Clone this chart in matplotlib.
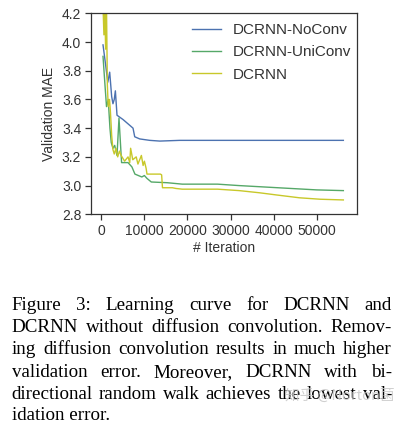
import matplotlib
matplotlib.use("Agg")
import matplotlib.pyplot as plt

# ---- data ----
noconv_x = [390, 1000, 1500, 1940, 2400, 2700, 3000, 3260, 3640, 5040, 6590, 7360, 7750, 8910, 11240, 13570, 18200, 56200]
noconv_y = [3.98, 3.84, 3.72, 3.79, 3.62, 3.57, 3.60, 3.66, 3.49, 3.46, 3.42, 3.40, 3.34, 3.325, 3.315, 3.31, 3.315, 3.315]

uniconv_x = [390, 800, 1200, 1600, 2000, 2300, 2700, 3100, 3640, 4100, 4700, 6200, 7100, 7800, 9400, 10000, 10600, 11600, 15300, 18800, 27000, 32000, 38000, 44000, 50000, 56200]
uniconv_y = [3.90, 3.72, 3.55, 3.60, 3.40, 3.30, 3.26, 3.28, 3.21, 3.47, 3.16, 3.16, 3.13, 3.08, 3.06, 3.07, 3.05, 3.025, 3.02, 3.01, 3.01, 3.00, 2.99, 2.98, 2.97, 2.965]

dcrnn_x = [390, 600, 800, 1000, 1200, 1400, 1600, 1900, 2100, 2400, 2700, 3000, 3400, 3800, 4200, 4600, 5400, 6200, 6600, 6800, 7300, 8100, 8500, 9300, 9700, 10000, 10400, 10600, 13700, 14000, 14200, 16500, 17300, 18800, 27000, 32000, 36700, 40600, 46000, 50800, 56200]
dcrnn_y = [4.25, 4.05, 4.22, 3.95, 4.25, 3.70, 3.55, 3.60, 3.52, 3.35, 3.25, 3.22, 3.26, 3.20, 3.24, 3.21, 3.17, 3.20, 3.16, 3.26, 3.18, 3.20, 3.15, 3.21, 3.14, 3.17, 3.12, 3.08, 3.08, 3.075, 2.985, 2.985, 2.98, 2.975, 2.975, 2.965, 2.95, 2.935, 2.915, 2.905, 2.90]

series_labels = ["DCRNN-NoConv", "DCRNN-UniConv", "DCRNN"]
colors = ["#4c72b0", "#55a868", "#c8c82a"]

x_ticks = [0, 10000, 20000, 30000, 40000, 50000]
y_ticks = [2.8, 3.0, 3.2, 3.4, 3.6, 3.8, 4.0, 4.2]

caption_lines = [
    "Figure 3:  Learning curve for DCRNN and",
    "DCRNN without diffusion convolution. Remov-",
    "ing diffusion convolution results in much higher",
    "validation error.  Moreover, DCRNN with bi-",
    "directional random walk achieves the lowest val-",
    "idation error.",
]

W, H = 408, 425
fig = plt.figure(figsize=(W / 100, H / 100), dpi=100)
fig.patch.set_facecolor("white")

ax = fig.add_axes([91 / W, 1 - 214.3 / H, (356.7 - 91) / W, (214.3 - 13.3) / H])
ax.plot(noconv_x, noconv_y, color=colors[0], lw=1.0, label=series_labels[0])
ax.plot(uniconv_x, uniconv_y, color=colors[1], lw=1.0, label=series_labels[1])
ax.plot(dcrnn_x, dcrnn_y, color=colors[2], lw=1.0, label=series_labels[2])

ax.set_xlim(-2400, 59300)
ax.set_ylim(2.8, 4.2)
ax.set_xticks(x_ticks)
ax.set_yticks(y_ticks)
ax.set_yticklabels([f"{v:.1f}" for v in y_ticks])
for lab in ax.get_xticklabels() + ax.get_yticklabels():
    lab.set_fontfamily("Liberation Sans")
    lab.set_fontsize(10)
    lab.set_color("#333333")
ax.tick_params(direction="out", length=4, width=0.9, color="#333333", pad=3)
for s in ax.spines.values():
    s.set_color("#333333")
    s.set_linewidth(0.9)
ax.set_xlabel("# Iteration", fontfamily="Liberation Sans", fontsize=10, color="#333333", labelpad=2)
ax.set_ylabel("Validation MAE", fontfamily="Liberation Sans", fontsize=10, color="#333333", labelpad=4)

leg = ax.legend(loc="upper left", frameon=False, prop=dict(family="Liberation Sans", size=11),
                handlelength=1.9, handletextpad=0.8, labelspacing=0.55, borderpad=0.0,
                bbox_to_anchor=(0.380, 0.952), borderaxespad=0.0)
for t in leg.get_texts():
    t.set_color("#333333")

# ---- caption, justified ----
left_px, right_px = 11.7, 392.0
base_y = [310, 332, 354.5, 377, 399, 420.5]
cap_font = dict(family="Liberation Serif", size=13.7, color="black")
fig.canvas.draw()
renderer = fig.canvas.get_renderer()
for i, line in enumerate(caption_lines):
    y = 1 - base_y[i] / H
    words = line.split()
    if i == len(caption_lines) - 1:
        fig.text(left_px / W, y, line, ha="left", va="baseline", **cap_font)
        continue
    texts = [fig.text(0, y, w, ha="left", va="baseline", **cap_font) for w in words]
    widths = [t.get_window_extent(renderer).width for t in texts]
    gap = (right_px - left_px - sum(widths)) / (len(words) - 1)
    x = left_px
    for t, w in zip(texts, widths):
        t.set_x(x / W)
        x += w + gap

fig.text(285 / W, 1 - 396 / H, "知乎 @Norton菌", ha="left", va="center",
         family=["Noto Sans CJK SC", "DejaVu Sans"], fontsize=10.5, color="#c8c8c8", alpha=0.85)

fig.savefig("out.png", dpi=100, facecolor="white")
